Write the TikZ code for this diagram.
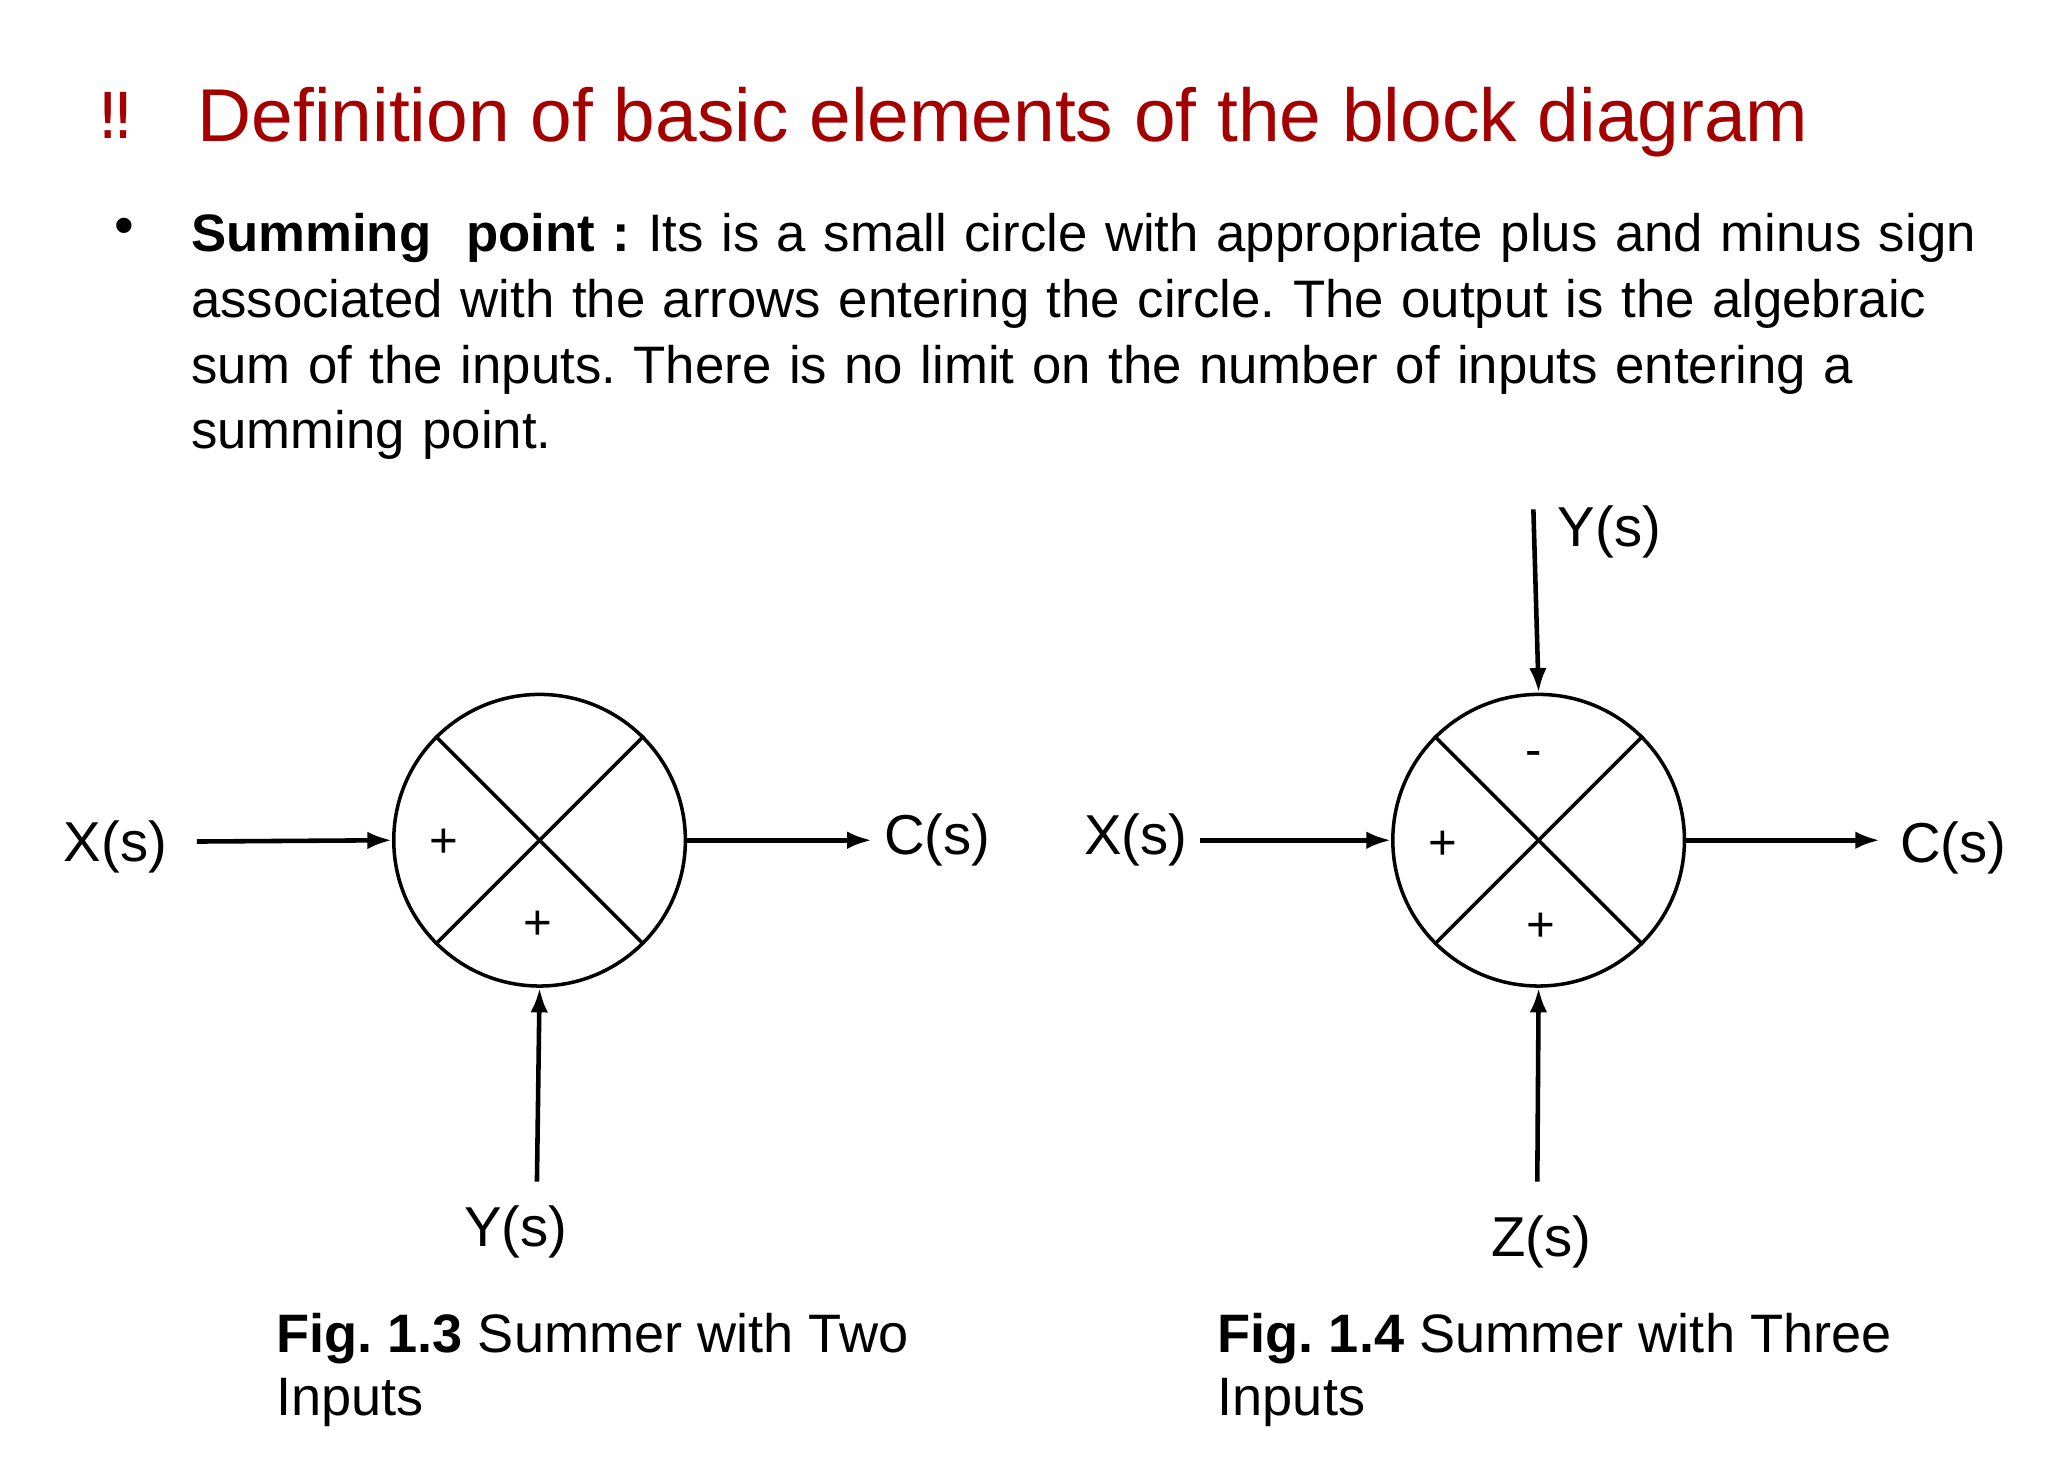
\documentclass[tikz,border=0pt]{standalone}
\usepackage{fontspec}
\setmainfont{Liberation Sans}
\newfontfamily\symfont{DejaVu Sans}
\usetikzlibrary{arrows.meta}
\definecolor{titlered}{RGB}{165,0,0}
\tikzset{
  summer/.style={circle,draw,line width=1pt,minimum size=2.915cm,inner sep=0pt},
  sig/.style={font=\fontsize{16}{19}\selectfont},
  figcap/.style={anchor=base west,inner sep=0pt,font=\fontsize{15.4}{18}\selectfont},
  sgn/.style={font=\fontsize{14}{16}\selectfont},
  flow/.style={line width=1.3pt,-{Latex[length=7pt,width=5pt]}},
}
\begin{document}
\frenchspacing
\begin{tikzpicture}[x=0.01313cm,y=-0.01313cm]
  \useasboundingbox (0,0) rectangle (1560,1114);
  % title
  \node[text=titlered,font=\symfont\fontsize{18}{20}\selectfont] (bang) at (88,88) {‼};
  \node[anchor=base west,inner sep=0pt,text=titlered,font=\fontsize{21.3}{24}\selectfont] (title) at (150,108)
    {Definition of basic elements of the block diagram};
  % bullet text
  \node[font=\fontsize{16}{19}\selectfont] (dot) at (95,176) {\textbullet};
  \node[anchor=north west,text width=18.5cm,align=left,inner sep=0pt,
    font=\fontsize{15}{18.7}\selectfont] (para) at (145,162)
    {\hyphenpenalty=10000 \textbf{Summing\ \ point :} Its is a small circle with appropriate plus and minus sign
    associated with the arrows entering the circle. The output is the algebraic
    sum of the inputs. There is no limit on the number of inputs entering a\\
    summing point.};
  % fig 1.3
  \node[summer] (sa) at (411,640) {};
  \draw[line width=1pt] (sa.north west) -- (sa.south east);
  \draw[line width=1pt] (sa.north east) -- (sa.south west);
  \node[sig] (xa) at (88,645) {X(s)};
  \node[sig] (ca) at (714,640) {C(s)};
  \node[sig] (ya) at (393,938) {Y(s)};
  \node[sgn] (pa1) at (338,642) {+};
  \node[sgn] (pa2) at (410,705) {+};
  \coordinate (xa0) at (150,641);
  \coordinate (ya0) at (409,900);
  \draw[flow] (xa0) -- (sa.west);
  \draw[flow] (sa.east) -- (ca.west);
  \draw[flow] (ya0) -- (sa.south);
  \node[figcap] (capa) at (210,1030) {\textbf{Fig. 1.3} Summer with Two};
  \node[figcap] (capa2) at (210,1078) {Inputs};
  % fig 1.4
  \node[summer] (sb) at (1172,640) {};
  \draw[line width=1pt] (sb.north west) -- (sb.south east);
  \draw[line width=1pt] (sb.north east) -- (sb.south west);
  \node[sig] (xb) at (865,640) {X(s)};
  \node[sig] (cb) at (1488,646) {C(s)};
  \node[sig] (yb) at (1226,405) {Y(s)};
  \node[sig] (zb) at (1174,946) {Z(s)};
  \node[sgn] (mb) at (1168,578) {-};
  \node[sgn] (pb1) at (1099,644) {+};
  \node[sgn] (pb2) at (1174,706) {+};
  \coordinate (yb0) at (1168,388);
  \coordinate (zb0) at (1171,900);
  \coordinate (cb0) at (1432,640);
  \draw[flow] (xb.east) -- (sb.west);
  \draw[flow] (sb.east) -- (cb0);
  \draw[flow] (yb0) -- (sb.north);
  \draw[flow] (zb0) -- (sb.south);
  \node[figcap] (capb) at (927,1030) {\textbf{Fig. 1.4} Summer with Three};
  \node[figcap] (capb2) at (927,1078) {Inputs};
\end{tikzpicture}
\end{document}
